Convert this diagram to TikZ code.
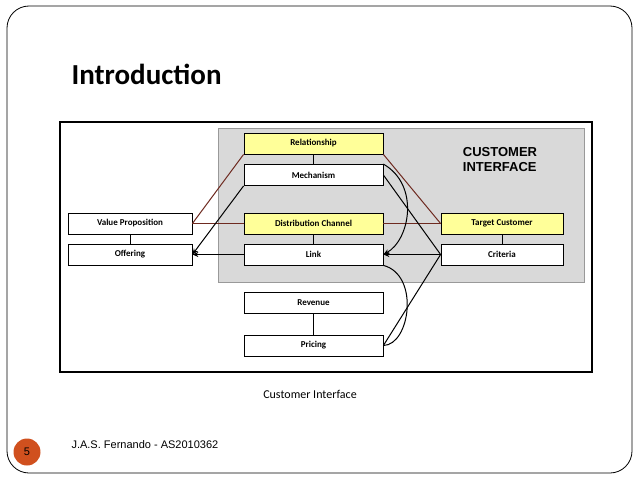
\documentclass[tikz,border=0pt]{standalone}
\usepackage{fontspec}
\setmainfont{Carlito}
\newfontfamily\arialf{Liberation Sans}
\usetikzlibrary{arrows.meta}
\definecolor{boxy}{HTML}{FFFF99}
\definecolor{brn}{HTML}{6E2A20}
\definecolor{grayr}{HTML}{D9D9D9}
\definecolor{orng}{HTML}{D0501E}
\begin{document}
\begin{tikzpicture}[x=1pt,y=-1pt,
  bx/.style={draw=black,line width=0.8pt,fill=white,minimum height=21pt,inner sep=0pt,font=\fontsize{9}{10}\selectfont\bfseries},
  yb/.style={bx,fill=boxy},
  br/.style={draw=brn,line width=1pt},
  ar/.style={draw=black,line width=1pt,-{Stealth[length=6pt,width=5pt]}},
  ln/.style={draw=black,line width=1pt}]
\useasboundingbox (0,0) rectangle (638,479);
\fill[white] (0,0) rectangle (638,479);
\draw[line width=0.8pt,rounded corners=22pt] (7,6) rectangle (632,473);
\node[anchor=base west,font=\fontsize{29}{30}\selectfont\bfseries] (title) at (68,84) {Introduction};
\draw[line width=2pt] (60,122) rectangle (592,372);
\fill[grayr,draw=gray!80] (218,128) rectangle (584,282);
\node[font=\arialf\fontsize{13}{15}\selectfont\bfseries,align=left] (ci) at (500,160) {CUSTOMER\\INTERFACE};
% boxes
\node[yb,minimum width=139pt] (rel) at (313.5,143.5) {Relationship};
\node[bx,minimum width=139pt] (mech) at (313.5,175) {Mechanism};
\node[yb,minimum width=139pt] (dist) at (313.5,223.5) {Distribution Channel};
\node[bx,minimum width=139pt] (link) at (313.5,254.5) {Link};
\node[bx,minimum width=139pt] (rev) at (313.5,303) {Revenue};
\node[bx,minimum width=139pt] (pric) at (313.5,345.5) {Pricing};
\node[bx,minimum width=124pt] (vp) at (130,223.5) {Value Proposition};
\node[bx,minimum width=124pt] (off) at (130,254.5) {Offering};
\node[yb,minimum width=122pt] (tc) at (502,223.5) {Target Customer};
\node[bx,minimum width=122pt] (crit) at (502,254.5) {Criteria};
% vertical links
\draw[ln,line width=0.8pt] (rel) -- (mech);
\draw[ln,line width=0.8pt] (dist) -- (link);
\draw[ln,line width=0.8pt] (rev) -- (pric);
\draw[ln,line width=0.8pt] (vp) -- (off);
\draw[ln,line width=0.8pt] (tc) -- (crit);
% brown
\draw[br] (vp.east) -- (rel.south west);
\draw[br] (vp.east) -- (dist.west);
\draw[br] (dist.east) -- (tc.west);
\draw[br] (rel.south east) -- (tc.west);
% black
\draw[ar] (mech.south west) -- (off.east);
\draw[ar] (link.west) -- (off.east);
\draw[ar] (crit.west) -- (link.east);
\draw[ln] (mech.east) -- (crit.west);
\draw[ln] (pric.east) -- (crit.west);
\draw[ar] (mech.north east) .. controls (420,185) and (410,240) .. (link.east);
\draw[ln] (link.south east) .. controls (420,275) and (410,345) .. (pric.east);
% caption
\node[font=\fontsize{12}{14}\selectfont] (cap) at (310,394) {Customer Interface};
% footer
\node[circle,fill=orng,minimum size=27pt,inner sep=0pt,font=\arialf\fontsize{11}{12}\selectfont] (num) at (27,452) {5};
\node[anchor=west,font=\arialf\fontsize{11}{12}\selectfont] (auth) at (68,445) {J.A.S. Fernando - AS2010362};
\end{tikzpicture}
\end{document}
